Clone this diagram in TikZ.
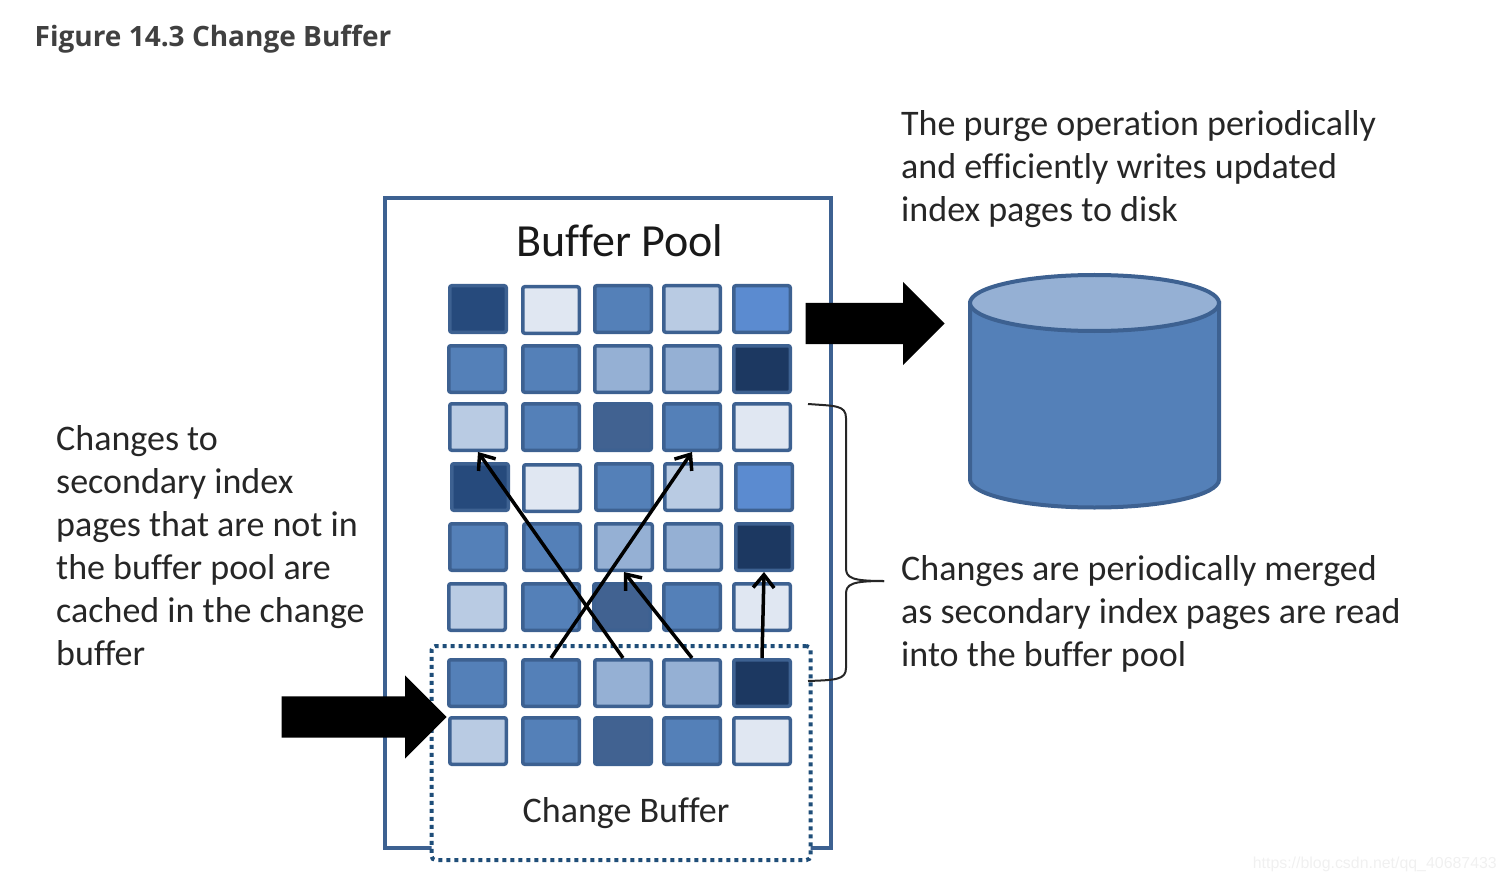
\documentclass[tikz,border=0pt]{standalone}
\usepackage{fontspec}
\setmainfont{Carlito}[Ligatures=NoCommon]
\newfontfamily\titlefont{Open Sans}
\newfontfamily\markfont{Liberation Sans}
\usepackage{tikz}
\usetikzlibrary{positioning,arrows.meta,shapes.arrows}
\definecolor{deepblue}{HTML}{264A7C}
\definecolor{iceblue}{HTML}{E0E7F2}
\definecolor{midblue}{HTML}{5480B8}
\definecolor{paleblue}{HTML}{B9CBE3}
\definecolor{brightblue}{HTML}{5B8BD0}
\definecolor{softblue}{HTML}{95B0D4}
\definecolor{navyblue}{HTML}{1C3861}
\definecolor{steelblue}{HTML}{416291}
\definecolor{edgeblue}{HTML}{3D6191}
\definecolor{dotblue}{HTML}{1F4E79}

\begin{document}
\begin{tikzpicture}[x=1pt,y=-1pt,>={Straight Barb[length=13pt,width=21pt]},
    page/.style={rectangle,draw=edgeblue,line width=3.5pt,rounded corners=2pt,inner sep=0pt,minimum width=56.5pt,minimum height=46.5pt},
    caption/.style={inner sep=0pt,align=left,anchor=north west,font=\fontsize{36}{43}\selectfont,text=black!85},
    block/.style={single arrow,fill=black,anchor=tip,inner xsep=0pt,inner ysep=20.5pt,minimum width=83pt,single arrow head extend=21pt,single arrow head indent=0pt},
    merge/.style={->,line width=3.5pt,black}]
    \useasboundingbox (0,0) rectangle (1506,882);

    \node[inner sep=0pt,anchor=base west,text=black!75] (title) at (34.5,47) {\titlefont\bfseries\fontsize{28}{34}\selectfont Figure 14.3 Change Buffer};

    % pool and change buffer frames
    \node[rectangle,draw=edgeblue,line width=4pt,minimum width=446pt,minimum height=650pt,inner sep=0pt] (pool) at (608,523) {};
    \node[rectangle,draw=dotblue,fill=white,line width=4pt,dash pattern=on 4pt off 4pt,rounded corners=4pt,minimum width=379pt,minimum height=214pt,inner sep=0pt] (cbuf) at (621,753) {};
    \node[font=\fontsize{46}{50}\selectfont,text=black!90] (pooltitle) at (620,241) {Buffer Pool};
    \node[font=\fontsize{36}{40}\selectfont,text=black!85] (cbuftitle) at (626,813) {Change Buffer};

    % pages of the pool
    \node[page,fill=deepblue] (a1) at (478,309) {};
    \node[page,fill=iceblue] (a2) at (551,310) {};
    \node[page,fill=midblue] (a3) at (623,309) {};
    \node[page,fill=paleblue] (a4) at (692,309) {};
    \node[page,fill=brightblue] (a5) at (762,309) {};

    \node[page,fill=midblue] (b1) at (477,369) {};
    \node[page,fill=midblue] (b2) at (551,369) {};
    \node[page,fill=softblue] (b3) at (623,369) {};
    \node[page,fill=softblue] (b4) at (692,369) {};
    \node[page,fill=navyblue] (b5) at (762,369) {};

    \node[page,fill=paleblue] (c1) at (478,427) {};
    \node[page,fill=midblue] (c2) at (551,427) {};
    \node[page,fill=steelblue] (c3) at (623,427) {};
    \node[page,fill=midblue] (c4) at (692,427) {};
    \node[page,fill=iceblue] (c5) at (762,427) {};

    \node[page,fill=deepblue] (d1) at (480,487) {};
    \node[page,fill=iceblue] (d2) at (552,488) {};
    \node[page,fill=midblue] (d3) at (624,487) {};
    \node[page,fill=paleblue] (d4) at (693,487) {};
    \node[page,fill=brightblue] (d5) at (764,487) {};

    \node[page,fill=midblue] (e1) at (478,547) {};
    \node[page,fill=midblue] (e2) at (552,547) {};
    \node[page,fill=softblue] (e3) at (624,547) {};
    \node[page,fill=softblue] (e4) at (693,547) {};
    \node[page,fill=navyblue] (e5) at (764,547) {};

    \node[page,fill=paleblue] (f1) at (477,607) {};
    \node[page,fill=midblue] (f2) at (551,607) {};
    \node[page,fill=steelblue] (f3) at (622,607) {};
    \node[page,fill=midblue] (f4) at (692,607) {};
    \node[page,fill=iceblue] (f5) at (762,607) {};

    \node[page,fill=midblue] (g1) at (477,683) {};
    \node[page,fill=midblue] (g2) at (551,683) {};
    \node[page,fill=softblue] (g3) at (623,683) {};
    \node[page,fill=softblue] (g4) at (692,683) {};
    \node[page,fill=navyblue] (g5) at (762,683) {};

    \node[page,fill=paleblue] (h1) at (478,741) {};
    \node[page,fill=midblue] (h2) at (551,741) {};
    \node[page,fill=steelblue] (h3) at (623,741) {};
    \node[page,fill=midblue] (h4) at (692,741) {};
    \node[page,fill=iceblue] (h5) at (762,741) {};

    % paths for merged pages
    \path[merge]
    (g2.north) edge (c4.south)
    (g3.north) edge (c1.south)
    (g4.north) edge (e3.south)
    (g5.north) edge (e5.south);

    % disk
    \draw[draw=edgeblue,fill=midblue,line width=4pt] (970,303) -- (970,479.5) arc[start angle=180,end angle=360,x radius=124.5pt,y radius=28pt] -- (1219,303) -- cycle;
    \draw[draw=edgeblue,fill=softblue,line width=4pt] (1094.5,303) ellipse[x radius=124.5pt,y radius=28pt];

    % big arrows
    \node[block,minimum height=139pt] (purge) at (945,323.5) {};
    \node[block,minimum height=165pt] (insert) at (447,717) {};

    % captions
    \node[caption] (purgetext) at (901,110) {The purge operation periodically\\and efficiently writes updated\\index pages to disk};
    \node[caption] (inserttext) at (56,425) {Changes to\\secondary index\\pages that are not in\\the buffer pool are\\cached in the change\\buffer};
    \node[caption] (mergetext) at (901,555) {Changes are periodically merged\\as secondary index pages are read\\into the buffer pool};

    % bracket over the merged rows
    \coordinate (bracetop) at (808,404);
    \coordinate (bracetip) at (884,581);
    \coordinate (bracebot) at (808,681);
    \draw[line width=2pt,black!85] (bracetop) .. controls (835,406) and (846,405) .. (846,418) -- (846,568) .. controls (846,578) and (852,581) .. (bracetip);
    \draw[line width=2pt,black!85] (bracetip) .. controls (852,581) and (846,584) .. (846,594) -- (846,668) .. controls (846,680) and (835,680) .. (bracebot);

    \node[inner sep=0pt,anchor=east,text=black!6] (mark) at (1497,864) {\markfont\fontsize{15.9}{20}\selectfont https://blog.csdn.net/qq\_40687433};

\end{tikzpicture}
\end{document}
